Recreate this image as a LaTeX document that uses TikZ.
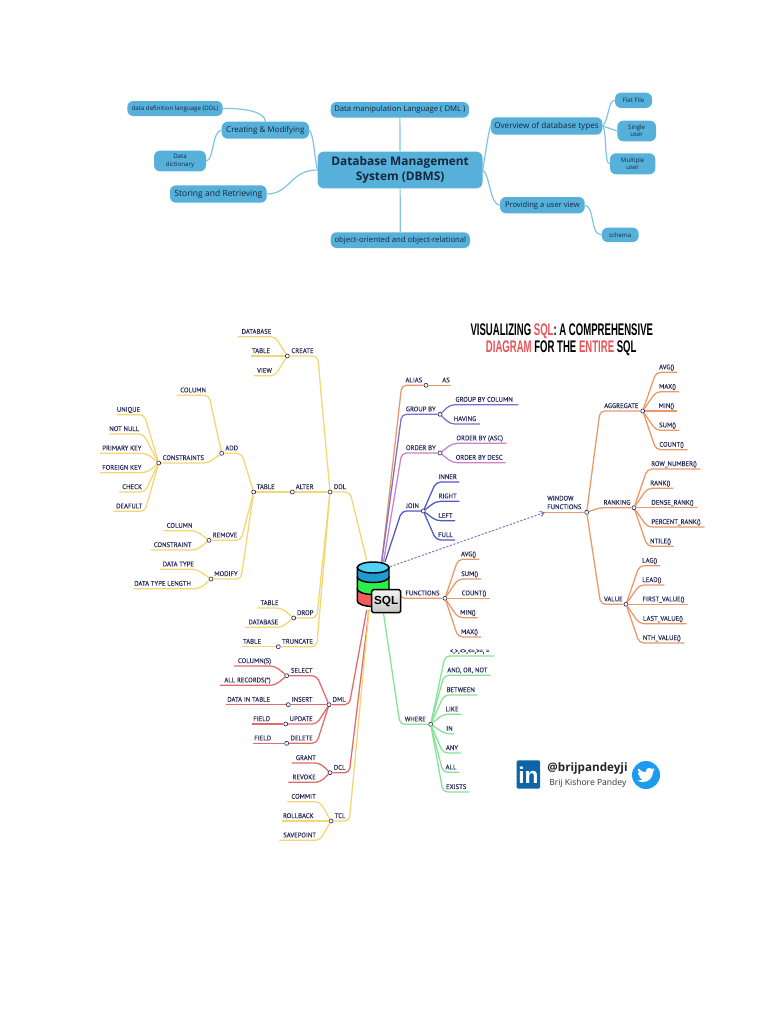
\documentclass[tikz,border=0pt]{standalone}
\usepackage{fontspec}
\setmainfont{Open Sans}
\newfontfamily\labfont[FakeBold=0.25]{PT Sans}
\newfontfamily\ttlfont[FakeStretch=0.57]{Liberation Sans Bold}
\newfontfamily\sqlfont{Liberation Sans}
\usetikzlibrary{arrows.meta}
\definecolor{boxc}{HTML}{56B0DA}
\definecolor{linkc}{HTML}{7EC5E4}
\definecolor{inkc}{HTML}{14283C}
\definecolor{navy}{HTML}{2B2F5E}
\definecolor{yel}{HTML}{F4D672}
\definecolor{redl}{HTML}{E26A6A}
\definecolor{orgl}{HTML}{E9986A}
\definecolor{vio}{HTML}{7E70C8}
\definecolor{pnk}{HTML}{C983C4}
\definecolor{blu}{HTML}{5058C8}
\definecolor{grn}{HTML}{86E296}
\definecolor{ttlred}{HTML}{E8545A}
\definecolor{dbtop}{HTML}{4FD0F5}
\definecolor{dbblue}{HTML}{1E9BD0}
\definecolor{dbgrn}{HTML}{2CF04A}
\definecolor{dbred}{HTML}{F45B5B}
\definecolor{lnk}{HTML}{0A66A8}
\definecolor{twt}{HTML}{1D9BF0}
\colorlet{cc}{yel}
\tikzset{
  tbox/.style={fill=boxc,rounded corners=4.5pt,inner sep=0pt,align=center,text=inkc},
  tlink/.style={draw=linkc,line width=.9pt},
  lab/.style={inner sep=0pt,text=navy,font=\labfont\fontsize{5}{6}\selectfont},
  conn/.style={draw=cc,line width=.95pt,rounded corners=3.5pt},
  hubn/.style={circle,draw=navy,fill=white,line width=.5pt,minimum size=3pt,inner sep=0pt}
}
% text box: name, xmin, xmax, ymin, ymax, font size, text
\newcommand\tb[7]{%
  \pgfmathsetmacro\bw{(#3-#2)*.75}\pgfmathsetmacro\bh{(#5-#4)*.75}%
  \pgfmathsetmacro\bx{(#2+#3)/2}\pgfmathsetmacro\by{(#4+#5)/2}%
  \pgfmathsetmacro\bl{#6*1.2}%
  \node[tbox,minimum width=\bw pt,minimum height=\bh pt,font=\fontsize{#6}{\bl}\selectfont] (#1) at (\bx,\by) {#7};}
% leaf: [dx] name, parent hub, far x, near x, y, text
\newcommand\lf[7][0]{%
  \coordinate (#2-f) at (#4,#6);\coordinate (#2-n) at (#5,#6);%
  \pgfmathsetmacro\lx{(#4+#5)/2+#1}%
  \node[lab,anchor=base] (#2) at (\lx,#6-3) {#7};%
  \draw[conn] (#3) -- (#2-n) -- (#2-f);}
% branch: name, parent, hub x, bend x, y, text
\newcommand\br[6]{%
  \coordinate (#1-b) at (#4,#5);%
  \node[hubn] (#1) at (#3,#5) {};%
  \pgfmathsetmacro\lx{(#3+#4)/2}%
  \node[lab,anchor=base] (#1-l) at (\lx,#5-3) {#6};%
  \draw[conn] (#2) -- (#1-b) -- (#1);}
\begin{document}
\begin{tikzpicture}[x=.75pt,y=-.75pt]
\useasboundingbox (0,0) rectangle (768,1024);
\fill[white] (0,0) rectangle (768,1024);
% ===== DBMS map =====
\tb{dbms}{317.7}{482.5}{151.7}{188.3}{8.9}{\bfseries Database Management\\\bfseries System (DBMS)}
\tb{dml}{330.7}{469}{102}{117.7}{5.8}{Data manipulation Language ( DML )}
\tb{oo}{330.7}{470}{232.3}{248}{5.8}{object-oriented and object-relational}
\tb{cm}{221.7}{309}{121.7}{138.7}{6.0}{Creating \& Modifying}
\tb{ddlb}{127.3}{222.7}{101}{116}{4.6}{data definition language (DDL)}
\tb{dict}{154}{206}{150.7}{171.3}{4.6}{Data\\dictionary}
\tb{sr}{170}{266.7}{185.3}{202.7}{6.4}{Storing and Retrieving}
\tb{ov}{490.7}{602.3}{117.3}{134.7}{6.1}{Overview of database types}
\tb{flat}{615}{652}{92.7}{108}{4.6}{Flat File}
\tb{single}{617.3}{656}{120.7}{141.3}{4.6}{Single\\user}
\tb{multi}{610}{655.3}{153.3}{174.3}{4.6}{Multiple\\user}
\tb{uv}{500}{584.7}{197}{213.3}{5.7}{Providing a user view}
\tb{schema}{601.7}{638.7}{227.7}{242}{4.6}{schema}
\draw[tlink] (dml.south) -- (dbms.north);
\draw[tlink] (oo.north) -- (dbms.south);
\draw[tlink] (ddlb.east) .. controls (245,108) and (265,112) .. (cm.north);
\draw[tlink] (cm.west) .. controls (212,131) and (214,160) .. (dict.east);
\draw[tlink] (sr.east) .. controls (290,194) and (290,170) .. (dbms.west);
\draw[tlink] (cm.east) .. controls (314,135) and (314,155) .. (dbms.west);
\draw[tlink] (dbms.east) .. controls (486,150) and (488,135) .. (ov.west);
\draw[tlink] (dbms.east) .. controls (490,175) and (490,205) .. (uv.west);
\draw[tlink] (ov.east) .. controls (609,120) and (608,100) .. (flat.west);
\draw[tlink] (ov.east) -- (single.west);
\draw[tlink] (ov.east) .. controls (607,130) and (604,164) .. (multi.west);
\draw[tlink] (uv.east) .. controls (595,207) and (590,235) .. (schema.west);
% ===== title =====
\node[inner sep=0pt,anchor=base,font=\ttlfont\fontsize{12.6}{14}\selectfont] (t1) at (561.8,335) {VISUALIZING \textcolor{ttlred}{SQL}: A COMPREHENSIVE};
\node[inner sep=0pt,anchor=base,font=\ttlfont\fontsize{12.6}{14}\selectfont] (t2) at (561.2,352.7) {\textcolor{ttlred}{DIAGRAM} FOR THE \textcolor{ttlred}{ENTIRE} SQL};
% ===== SQL map: anchors on the database icon =====
\coordinate (dbA) at (366.7,560);
\coordinate (dbB) at (381.7,561.7);
\coordinate (dbC) at (383.5,562);
\coordinate (dbD) at (385,562);
\coordinate (dbE) at (390,566.7);
\coordinate (dbF) at (366.7,610);
\coordinate (dbG) at (369,610);
\coordinate (dbH) at (400,598.3);
\coordinate (dbI) at (383.3,612);
% DDL
\colorlet{cc}{yel}
\br{ddl}{dbA}{330}{350}{492}{DDL}
\br{create}{ddl}{287.3}{317.7}{356}{CREATE}
\lf{c1}{create}{238}{275}{336.7}{DATABASE}
\lf{c2}{create}{251}{271}{356}{TABLE}
\lf{c3}{create}{254}{275}{375.7}{VIEW}
\br{alter}{ddl}{292.3}{317}{492}{ALTER}
\br{tbl}{alter}{253.7}{277.7}{492}{TABLE}
\br{add}{tbl}{221.7}{241.7}{453.3}{ADD}
\lf{a1}{add}{177.3}{209}{395.3}{COLUMN}
\br{cons}{add}{158.7}{208}{463}{CONSTRAINTS}
\lf[-2]{k1}{cons}{116.7}{144.3}{414.7}{UNIQUE}
\lf[-2]{k2}{cons}{109.3}{143.3}{434}{NOT NULL}
\lf[-1.5]{k3}{cons}{100}{146.7}{453.3}{PRIMARY KEY}
\lf[-1.5]{k4}{cons}{100}{146.7}{472.7}{FOREIGN KEY}
\lf{k5}{cons}{119.3}{145}{492}{CHECK}
\lf{k6}{cons}{113.3}{145}{511.3}{DEAFULT}
\br{rem}{tbl}{209}{241}{540.3}{REMOVE}
\lf{r1}{rem}{163.3}{196}{530.7}{COLUMN}
\lf[-1]{r2}{rem}{150.7}{196.7}{550}{CONSTRAINT}
\br{mod}{tbl}{211}{241}{579}{MODIFY}
\lf{m1}{mod}{160}{196.7}{569.3}{DATA TYPE}
\lf[-4]{m2}{mod}{133.3}{200}{588.7}{DATA TYPE LENGTH}
\br{drop}{ddl}{293.7}{316.7}{618}{DROP}
\lf{d1}{drop}{257.3}{281.7}{608}{TABLE}
\lf{d2}{drop}{245}{281.7}{627.3}{DATABASE}
\br{trunc}{ddl}{278.3}{316.7}{646.7}{TRUNCATE}
\lf{t1l}{trunc}{241.7}{262.3}{646.7}{TABLE}
% DML
\colorlet{cc}{redl}
\br{dmln}{dbF}{329}{349.3}{704.7}{DML}
\br{sel}{dmln}{286.7}{316.7}{675.7}{SELECT}
\lf{s1}{sel}{234}{275}{666}{COLUMN(S)}
\lf{s2}{sel}{220}{275}{685.3}{ALL RECORDS(*)}
\br{ins}{dmln}{288.3}{316}{704.7}{INSERT}
\lf{i1}{ins}{225.7}{271.7}{704.7}{DATA IN TABLE}
\br{upd}{dmln}{285.7}{316.7}{724}{UPDATE}
\lf{u1}{upd}{251.7}{271.7}{724}{FIELD}
\br{del}{dmln}{286.7}{316.7}{743.3}{DELETE}
\lf{de1}{del}{252.7}{272.7}{743.3}{FIELD}
\br{dcl}{dbG}{330}{349.3}{772.7}{DCL}
\lf{g1}{dcl}{291.7}{320}{763}{GRANT}
\lf{g2}{dcl}{288.3}{320}{782.3}{REVOKE}
% TCL
\colorlet{cc}{yel}
\br{tcl}{dbG}{331}{349.3}{821}{TCL}
\lf{tc1}{tcl}{287.3}{320}{801.7}{COMMIT}
\lf{tc2}{tcl}{281.7}{315}{821}{ROLLBACK}
\lf{tc3}{tcl}{279.3}{320}{840.3}{SAVEPOINT}
% right side
\colorlet{cc}{orgl}
\br{alias}{dbB}{426}{401.7}{385.3}{ALIAS}
\lf{as}{alias}{451}{441}{385.3}{AS}
\colorlet{cc}{vio}
\br{grp}{dbB}{440}{401.7}{414.3}{GROUP BY}
\lf{gp1}{grp}{518.3}{450}{404.7}{GROUP BY COLUMN}
\lf{gp2}{grp}{480}{450}{424}{HAVING}
\colorlet{cc}{pnk}
\br{ord}{dbC}{440}{401.7}{453}{ORDER BY}
\lf{o1}{ord}{506.7}{452.7}{443.3}{ORDER BY (ASC)}
\lf{o2}{ord}{505.7}{452.7}{462.7}{ORDER BY DESC}
\colorlet{cc}{blu}
\br{join}{dbD}{423.3}{401.7}{511}{JOIN}
\lf{j1}{join}{459.3}{436}{482}{INNER}
\lf{j2}{join}{459.3}{436}{501.3}{RIGHT}
\lf{j3}{join}{455}{436}{520.7}{LEFT}
\lf{j4}{join}{455}{436}{540}{FULL}
\colorlet{cc}{orgl}
\br{fun}{dbH}{445}{400}{598.3}{FUNCTIONS}
\lf{f1}{fun}{479}{458}{559.3}{AVG()}
\lf{f2}{fun}{481.3}{458}{579}{SUM()}
\lf{f3}{fun}{490}{458}{598.3}{COUNT()}
\lf{f4}{fun}{477.7}{458}{617.7}{MIN()}
\lf{f5}{fun}{481}{458}{637}{MAX()}
\colorlet{cc}{grn}
\br{wh}{dbI}{430.7}{400}{724.3}{WHERE}
\lf{w1}{wh}{494.3}{445}{656}{<,>,<>,<=,>=, =}
\lf{w2}{wh}{490.7}{444}{675.3}{AND, OR, NOT}
\lf{w3}{wh}{477.3}{444}{695}{BETWEEN}
\lf{w4}{wh}{461}{443}{714.3}{LIKE}
\lf{w5}{wh}{454}{445}{733.7}{IN}
\lf{w6}{wh}{461}{443}{753}{ANY}
\lf{w7}{wh}{459}{443}{772.3}{ALL}
\lf{w8}{wh}{469.3}{443}{792}{EXISTS}
% window functions
\colorlet{cc}{orgl}
\node[hubn] (wf) at (586.7,512.3) {};
\coordinate (wfl) at (545,512.3);
\node[lab,align=left,anchor=west,font=\labfont\fontsize{5}{6.4}\selectfont] (wft) at (547,502.5) {WINDOW\\FUNCTIONS};
\draw[conn] (wf) -- (wfl);
\draw[draw=vio,line width=.75pt,dash pattern=on 1.6pt off 1.2pt,-{Straight Barb[length=3pt,width=4pt]}] (dbE) -- (wfl);
\br{agg}{wf}{642.7}{600}{411}{AGGREGATE}
\lf{ag1}{agg}{677.3}{656}{372.3}{AVG()}
\lf{ag2}{agg}{679}{656}{391.7}{MAX()}
\lf{ag3}{agg}{676.7}{656}{411}{MIN()}
\lf{ag4}{agg}{679}{656}{430.3}{SUM()}
\lf{ag5}{agg}{687.3}{656}{449.7}{COUNT()}
\br{rnk}{wf}{634}{600}{507.7}{RANKING}
\lf{rk1}{rnk}{700.7}{647.3}{469}{ROW\_NUMBER()}
\lf{rk2}{rnk}{673.3}{647.3}{488.3}{RANK()}
\lf{rk3}{rnk}{697.7}{647.3}{507.7}{DENSE\_RANK()}
\lf{rk4}{rnk}{704.7}{647.3}{527}{PERCENT\_RANK()}
\lf{rk5}{rnk}{673.7}{647.3}{546.3}{NTILE()}
\br{val}{wf}{626}{600.7}{604.3}{VALUE}
\lf{v1}{val}{660}{639.3}{565.7}{LAG()}
\lf{v2}{val}{664.3}{639.3}{585}{LEAD()}
\lf{v3}{val}{687.7}{639.3}{604.3}{FIRST\_VALUE()}
\lf{v4}{val}{686.7}{639.3}{623.7}{LAST\_VALUE()}
\lf{v5}{val}{684.3}{639.3}{643}{NTH\_VALUE()}
% ===== database icon =====
\begin{scope}[line width=1.1pt,draw=black]
\draw[fill=dbred] (357.3,589) -- (357.3,601) arc[start angle=180,end angle=0,x radius=15.85,y radius=5.5] -- (389,589) -- cycle;
\draw[fill=dbgrn] (357.3,577) -- (357.3,589) arc[start angle=180,end angle=0,x radius=15.85,y radius=5.5] -- (389,577) -- cycle;
\draw[fill=dbblue] (357.3,567.5) -- (357.3,577) arc[start angle=180,end angle=0,x radius=15.85,y radius=5.5] -- (389,567.5) -- cycle;
\draw[fill=dbtop] (373.15,567.5) ellipse[x radius=15.85,y radius=5.5];
\end{scope}
\shade[top color=gray!10,bottom color=gray!45,draw=black,line width=1.1pt,rounded corners=1.2pt] (371.7,589.7) rectangle (400.7,612.7);
\node[inner sep=0pt,font=\sqlfont\bfseries\fontsize{8.8}{10}\selectfont] (sql) at (386.2,601.2) {SQL};
% ===== credits =====
\fill[fill=lnk,rounded corners=1pt] (516.7,760.3) rectangle (540,788.7);
\node[inner sep=0pt,text=white,font=\sqlfont\bfseries\fontsize{17}{18}\selectfont] (lin) at (528.4,775) {in};
\node[inner sep=0pt,text=black!85,font=\bfseries\fontsize{8.75}{10}\selectfont] (h1) at (587.5,768.3) {@brijpandeyji};
\node[inner sep=0pt,text=black!80,font=\fontsize{6.4}{8}\selectfont] (h2) at (587.8,783) {Brij Kishore Pandey};
\fill[fill=twt] (646,775) circle[radius=14];
\begin{scope}[shift={(637.2,766.2)},x=.55pt,y=-.55pt]
\fill[white] (23.95,4.57) .. controls (23.07,4.96) and (22.12,5.22) .. (21.13,5.35) .. controls (22.14,4.74) and (22.93,3.78) .. (23.29,2.62) .. controls (22.34,3.18) and (21.29,3.58) .. (20.16,3.8) .. controls (19.26,2.84) and (17.98,2.25) .. (16.57,2.25) .. controls (13.85,2.25) and (11.64,4.46) .. (11.64,7.17) .. controls (11.64,7.56) and (11.69,7.94) .. (11.77,8.3) .. controls (7.69,8.1) and (4.07,6.13) .. (1.64,3.16) .. controls (1.22,3.89) and (.97,4.73) .. (.97,5.64) .. controls (.97,7.35) and (1.84,8.85) .. (3.16,9.73) .. controls (2.35,9.71) and (1.6,9.49) .. (.93,9.12) -- (.93,9.18) .. controls (.93,11.56) and (2.63,13.56) .. (4.88,14) .. controls (4.47,14.11) and (4.03,14.18) .. (3.58,14.18) .. controls (3.26,14.18) and (2.96,14.14) .. (2.67,14.09) .. controls (3.29,16.04) and (5.1,17.46) .. (7.27,17.5) .. controls (5.58,18.83) and (3.45,19.61) .. (1.17,19.61) .. controls (.78,19.61) and (.39,19.59) .. (0,19.54) .. controls (2.19,20.94) and (4.78,21.75) .. (7.56,21.75) .. controls (16.61,21.75) and (21.56,14.25) .. (21.56,7.77) .. controls (21.56,7.56) and (21.56,7.35) .. (21.55,7.14) .. controls (22.51,6.45) and (23.35,5.58) .. (23.95,4.57) -- cycle;
\end{scope}
\end{tikzpicture}
\end{document}
